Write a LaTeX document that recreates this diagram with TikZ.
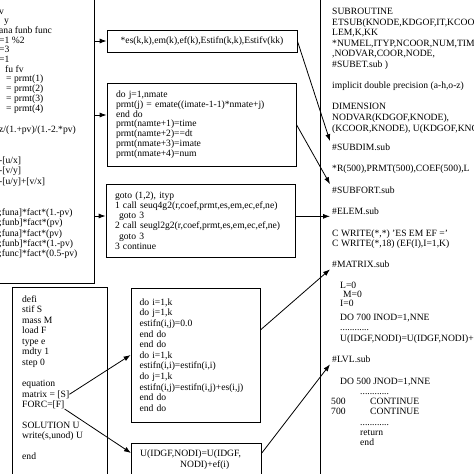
\documentclass[tikz,border=0pt]{standalone}
\usepackage{fontspec}
\setmainfont{Liberation Serif}
\usetikzlibrary{arrows.meta}

\begin{document}
\begin{tikzpicture}[x=1pt, y=-1pt,
    frame/.style={draw, line width=0.8pt, inner sep=0pt},
    code/.style={font=\fontsize{9.6}{#1}\selectfont},
    code/.default=10.4,
    box/.style={frame, code, align=left, text width=171pt, inner xsep=9pt},
    txt/.style={code, anchor=base west, inner sep=0pt, align=left},
    lbl/.style={txt, inner sep=2pt},
    arr/.style={-{Latex[length=7pt,width=5pt]}, line width=0.8pt}]
  \useasboundingbox (0,0) rectangle (474,474);
  \clip (0,0) rectangle (474,474);

  % frames that run off the page
  \node[frame, anchor=south east, minimum width=200, minimum height=320] (setup) at (95,283.5) {};
  \node[frame, anchor=north west, minimum width=95, minimum height=220] (defs) at (12,287) {};
  \node[frame, anchor=north west, minimum width=130, minimum height=60] (ubox) at (131,443) {};
  \node[frame, anchor=north west, minimum width=220, minimum height=520] (etsub) at (320,-20) {};

  % left column (multi-line texts sit on the baseline of their last line)
  \node[txt, code=9.7] (setupa) at (-1,111) {v\\\hspace*{5pt}y\\ana funb func\\=1 \%2\\=3\\=1\\
    \hspace*{6pt}fu fv\\\hspace*{7pt}= prmt(1)\\\hspace*{7pt}= prmt(2)\\\hspace*{7pt}= prmt(3)\\\hspace*{7pt}= prmt(4)};
  \node[txt] (setupb) at (-1,256.8) {z/(1.+pv)/(1.-2.*pv)\\[20.8pt]-[u/x]\\-[v/y]\\-[u/y]+[v/x]\\[20.8pt]
    ;funa]*fact*(1.-pv)\\;funb]*fact*(pv)\\;funa]*fact*(pv)\\;funb]*fact*(1.-pv)\\;func]*fact*(0.5-pv)};

  \node[txt, code=10.5] (defi) at (22,386) {defi\\stif S\\mass M\\load F\\type e\\mdty 1\\step 0\\[10.5pt]equation};
  \node[txt] (matS) at (22,397) {matrix = [S]};
  \node[txt] (forc) at (22,407.5) {FORC=[F]};
  \node[txt, code=10.5] (solve) at (22,459.5) {SOLUTION U\\write(s,unod) U\\[10.5pt]end};

  % middle column
  \node[box, align=center, minimum width=190, minimum height=22] (box1) at (202,41)
    {*es(k,k),em(k),ef(k),Estifn(k,k),Estifv(kk)};
  \node[box, code=9.8, minimum height=83] (box2) at (201.5,124.5)
    {do j=1,nmate\\prmt(j) = emate((imate-1-1)*nmate+j)\\end do\\prmt(namte+1)=time\\
     prmt(namte+2)==dt\\prmt(nmate+3)=imate\\prmt(nmate+4)=num};
  \node[box, code=10.2, minimum height=73] (box3) at (200.5,220.5)
    {goto (1,2), ityp\\1 call seuq4g2(r,coef,prmt,es,em,ec,ef,ne)\\\hspace*{4pt}goto 3\\
     2 call seugl2g2(r,coef,prmt,es,em,ec,ef,ne)\\\hspace*{4pt}goto 3\\3 continue};
  \node[box, code=10.6, text width=112pt, inner xsep=8.5pt, minimum height=134] (loops) at (195.5,355)
    {do i=1,k\\do j=1,k\\estifn(i,j)=0.0\\end do\\end do\\do i=1,k\\estifn(i,i)=estifn(i,i)\\
     do j=1,k\\estifn(i,j)=estifn(i,j)+es(i,j)\\end do\\end do};
  \node[txt, code=11] (utext) at (140,467) {U(IDGF,NODI)=U(IDGF,\\\hspace*{40pt}NODI)+ef(i)};

  % right column
  \node[txt, code=10.6] (head) at (332,131) {SUBROUTINE\\ETSUB(KNODE,KDGOF,IT,KCOOR,\\LEM,K,KK\\
    {*}NUMEL,ITYP,NCOOR,NUM,TIME\\,NODVAR,COOR,NODE,\\\#SUBET.sub )\\[10.6pt]
    implicit double precision (a-h,o-z)\\[10.6pt]DIMENSION\\NODVAR(KDGOF,KNODE),\\
    (KCOOR,KNODE), U(KDGOF,KNODE)};
  \node[lbl] (subdim) at (330,150) {\#SUBDIM.sub};
  \node[txt] (rdim) at (332,171) {*R(500),PRMT(500),COEF(500),L};
  \node[lbl] (subfort) at (330,193) {\#SUBFORT.sub};
  \node[lbl] (elem) at (330,214) {\#ELEM.sub};
  \node[txt, code=10] (writes) at (332,246) {C WRITE(*,*) 'ES EM EF ='\\C WRITE(*,18) (EF(I),I=1,K)};
  \node[lbl] (matrix) at (330,267) {\#MATRIX.sub};
  \node[txt, code=9.2] (matbody) at (340,341) {L=0\\\hspace*{3pt}M=0\\I=0\\[4.6pt]DO 700 INOD=1,NNE\\[1.4pt]
    ............\\[1pt]U(IDGF,NODI)=U(IDGF,NODI)+};
  \node[lbl] (lvl) at (330,362) {\#LVL.sub};
  \node[txt, code=10.3] (lvlbody) at (331,445.8) {\hspace*{9pt}DO 500 JNOD=1,NNE\\
    \hspace*{29pt}............\\\makebox[39pt][l]{500}CONTINUE\\\makebox[39pt][l]{700}CONTINUE\\
    \hspace*{29pt}............\\\hspace*{29pt}return\\\hspace*{29pt}end};

  % connectors
  \coordinate (in2) at ([yshift=9.5pt]box2.west);
  \coordinate (in3) at ([yshift=4.5pt]box3.west);
  \draw[arr] (setup.east |- box1.west) -- (box1.west);
  \draw[arr] (setup.east |- in2) -- (in2);
  \draw[arr] (setup.east |- in3) -- (in3);
  \draw[arr] (box1.east) -- (subdim.north west);
  \draw[arr] (box2.east) -- (subfort.north west);
  \draw[arr] (box3.east |- elem.south west) -- (elem.south west);
  \draw[arr] ([yshift=25pt]loops.east) -- (matrix.south west);
  \draw[arr] ([yshift=-10pt]ubox.north east) -- (lvl.south west);
  \draw[arr] (matS.east) -- (loops.west);
  \draw[arr] (forc.south east) -- ([yshift=-10pt]ubox.north west);
\end{tikzpicture}
\end{document}
